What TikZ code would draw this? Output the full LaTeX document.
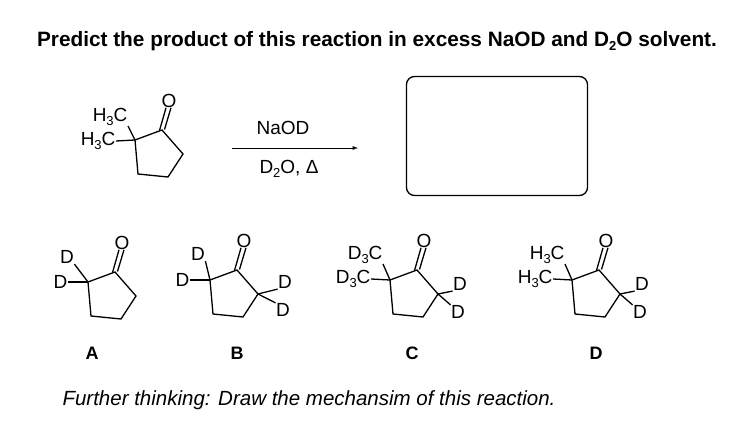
\documentclass[tikz,border=0pt]{standalone}
\usepackage{fontspec}
\setmainfont{Liberation Sans}
\usetikzlibrary{calc}
\newcommand{\dn}[1]{\raisebox{-0.35ex}{\fontsize{13}{13}\selectfont #1}}
\begin{document}
\begin{tikzpicture}[x=1pt,y=-1pt,line width=1.1pt,
  lbl/.style={inner sep=0pt,font=\fontsize{19}{19}\selectfont},
  let/.style={inner sep=0pt,font=\fontsize{18}{18}\selectfont\bfseries},
  bond/.style={line width=1.3pt}]
\useasboundingbox[fill=white] (0,0) rectangle (740,438);
\node[font=\fontsize{20.8}{20.8}\selectfont\bfseries] (title) at (377,41) {Predict the product of this reaction in excess NaOD and D\dn{2}O solvent.};
\newcommand{\ketring}[2]{%
  \coordinate (#1q) at (#2);
  \coordinate (#1c) at ($(#2)+(27,-10)$);
  \coordinate (#1r) at ($(#2)+(48,14)$);
  \coordinate (#1b) at ($(#2)+(33,37)$);
  \coordinate (#1l) at ($(#2)+(3,34)$);
  \node[lbl] (#1O) at ($(#2)+(34,-39)$) {O};
  \draw[bond] (#1q)--(#1c)--(#1r)--(#1b)--(#1l)--cycle;
  \draw[bond] ($(#1c)+(-2.5,0.5)$)--($(#1O.south)+(-3,-0.5)$);
  \draw[bond] ($(#1c)+(2.5,-0.5)$)--($(#1O.south)+(2,-0.5)$);
}
% top molecule
\ketring{t}{135,140}
\node[lbl,anchor=east] (tm1) at (128,117) {H\dn{3}C};
\node[lbl,anchor=east] (tm2) at (116,141) {H\dn{3}C};
\draw[bond] (tq)--(tm1.south east);
\draw[bond] (tq)--(tm2.east);
% arrow
\coordinate (a1) at (232,148); \coordinate (a2) at (358,148);
\draw[line width=0.9pt,-latex] (a1)--(a2);
\node[lbl] (naod) at (283,128) {NaOD};
\node[lbl] (d2o) at (289,169) {D\dn{2}O, Δ};
\node[draw,line width=1.3pt,rounded corners=8pt,minimum width=181pt,minimum height=119pt] (box) at (497,136) {};
% A
\ketring{A}{88,282}
\node[lbl] (AD1) at (67,257) {D};
\node[lbl,anchor=east] (AD2) at (68,282) {D};
\draw[bond] (Aq)--(AD1.south east);
\draw[bond] (Aq)--(AD2.east);
% B
\ketring{B}{210,280}
\node[lbl] (BD1) at (198,254) {D};
\node[lbl,anchor=east] (BD2) at (190,280) {D};
\draw[bond] (Bq)--(BD1.south east);
\draw[bond] (Bq)--(BD2.east);
\node[lbl] (BD3) at (285,282) {D};
\node[lbl] (BD4) at (283,310) {D};
\draw[bond] (Br)--(BD3.south west);
\draw[bond] (Br)--(BD4.north west);
% C
\ketring{C}{390,280}
\node[lbl,anchor=east] (Cm1) at (383,255) {D\dn{3}C};
\node[lbl,anchor=east] (Cm2) at (371,279) {D\dn{3}C};
\draw[bond] (Cq)--(Cm1.south east);
\draw[bond] (Cq)--(Cm2.east);
\node[lbl] (CD3) at (460,284) {D};
\node[lbl] (CD4) at (458,312) {D};
\draw[bond] (Cr)--(CD3.south west);
\draw[bond] (Cr)--(CD4.north west);
% D
\ketring{D}{572,280}
\node[lbl,anchor=east] (Dm1) at (565,255) {H\dn{3}C};
\node[lbl,anchor=east] (Dm2) at (553,279) {H\dn{3}C};
\draw[bond] (Dq)--(Dm1.south east);
\draw[bond] (Dq)--(Dm2.east);
\node[lbl] (DD3) at (642,284) {D};
\node[lbl] (DD4) at (640,312) {D};
\draw[bond] (Dr)--(DD3.south west);
\draw[bond] (Dr)--(DD4.north west);
% letters
\node[let] (la) at (92,353) {A};
\node[let] (lb) at (237,353) {B};
\node[let] (lc) at (412,353) {C};
\node[let] (ld) at (596,353) {D};
\node[lbl,anchor=west,font=\fontsize{20.5}{20.5}\selectfont\itshape] (ft) at (62,400) {Further thinking: Draw the mechansim of this reaction.};
\end{tikzpicture}
\end{document}
